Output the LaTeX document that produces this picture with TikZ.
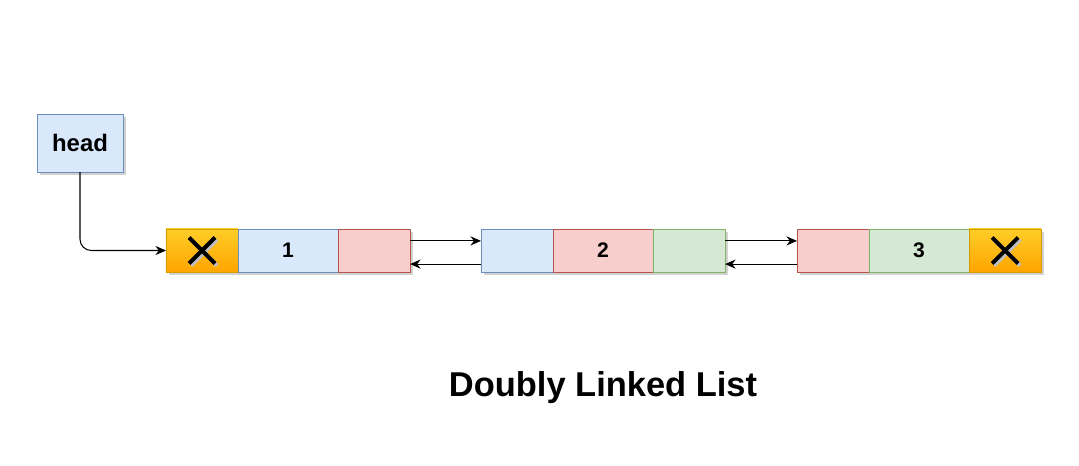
\documentclass[tikz,border=0pt]{standalone}
\usepackage{fontspec}
\setmainfont{Liberation Sans}
\usetikzlibrary{arrows.meta,positioning,shadows}
\definecolor{bluefill}{HTML}{DAE8FC}
\definecolor{blueline}{HTML}{6C8EBF}
\definecolor{redfill}{HTML}{F8CECC}
\definecolor{redline}{HTML}{B85450}
\definecolor{greenfill}{HTML}{D5E8D4}
\definecolor{greenline}{HTML}{82B366}
\definecolor{nultop}{HTML}{FFCD28}
\definecolor{nulbot}{HTML}{FFA500}
\definecolor{nulline}{HTML}{D79B00}
\tikzset{
  cell/.style  = {draw, rectangle, line width=0.6pt, minimum height=1.075cm,
                  inner sep=0pt, outer sep=0pt,
                  font=\bfseries\fontsize{15}{15}\selectfont,
                  drop shadow={shadow xshift=2pt, shadow yshift=-2pt,
                               fill=black!18, opacity=1}},
  ptr/.style   = {cell, minimum width=1.8cm},
  data/.style  = {cell, minimum width=2.5cm},
  bluecell/.style  = {draw=blueline, fill=bluefill},
  redcell/.style   = {draw=redline, fill=redfill},
  greencell/.style = {draw=greenline, fill=greenfill},
  nulcell/.style   = {ptr, draw=nulline, top color=nultop, bottom color=nulbot},
  cross/.style = {line width=2.8pt, black},
  crossshade/.style = {line width=2.8pt, black!25},
  link/.style = {->, line width=0.75pt}
}

\begin{document}
\begin{tikzpicture}[x=0.025cm, y=-0.025cm,
  >={Stealth[length=7.5pt, width=6.5pt]}]
\useasboundingbox (0,0) rectangle (1079,466);

  % head pointer
  \node[cell, bluecell, minimum width=2.15cm, minimum height=1.45cm,
        font=\bfseries\fontsize{17}{17}\selectfont] (head) at (80,143) {head};

% first node
\node[nulcell] (n1x) at (202,250.5) {};
\node[data, bluecell, right=0pt of n1x] (n1v) {1};
\node[ptr, redcell, right=0pt of n1v] (n1n) {};

% second node
\node[ptr, bluecell] (n2p) at (517,250.5) {};
\node[data, redcell, right=0pt of n2p] (n2v) {2};
\node[ptr, greencell, right=0pt of n2v] (n2n) {};

% third node
\node[ptr, redcell] (n3p) at (833,250.5) {};
\node[data, greencell, right=0pt of n3p] (n3v) {3};
\node[nulcell, right=0pt of n3v] (n3x) {};

% null markers
\foreach \c in {n1x,n3x} {
  \draw[crossshade] ([shift={(-11,-11)}]\c.center) -- ([shift={(15,15)}]\c.center)
                    ([shift={(-11,15)}]\c.center) -- ([shift={(15,-11)}]\c.center);
  \draw[cross] (\c.center) +(-13,-13) -- +(13,13);
  \draw[cross] (\c.center) +(-13,13) -- +(13,-13);
}

% head to first node
\draw[link, rounded corners=8pt] (head.south) |- (n1x.west);

% links between neighbouring nodes
\foreach \a/\b in {n1n/n2p, n2n/n3p} {
  \draw[link] ([yshift=0.24cm]\a.east) -- ([yshift=0.24cm]\b.west);
  \draw[link] ([yshift=-0.34cm]\b.west) -- ([yshift=-0.34cm]\a.east);
}

\node[font=\bfseries\fontsize{24.5}{24.5}\selectfont] (title) at (603,388)
  {Doubly Linked List};
\end{tikzpicture}
\end{document}
